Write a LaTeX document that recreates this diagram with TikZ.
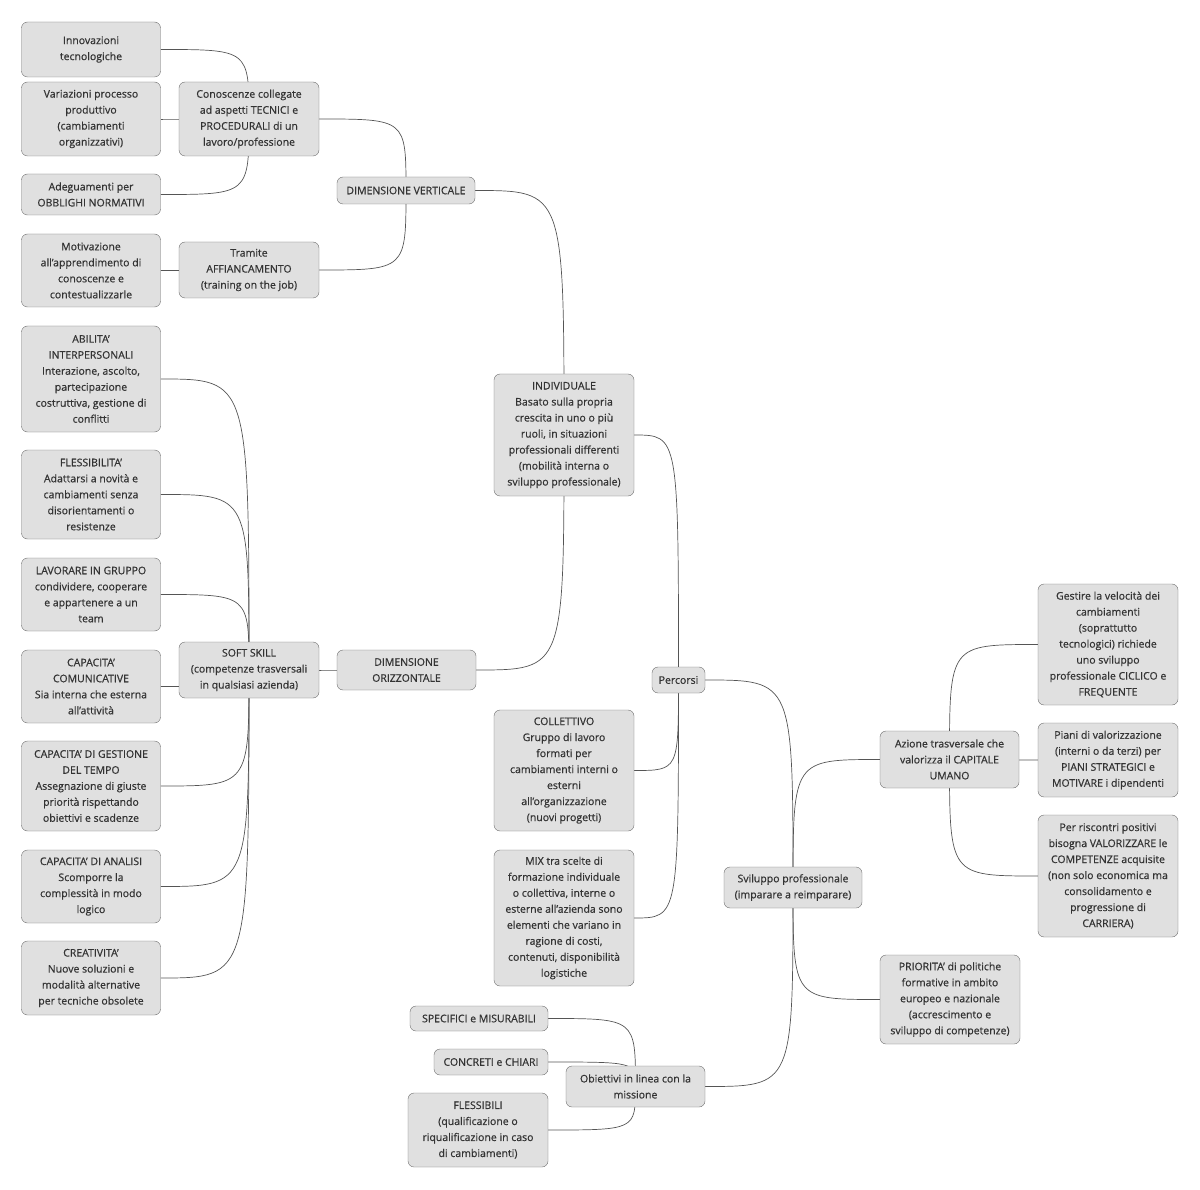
\documentclass[tikz,border=0pt]{standalone}
\usepackage{fontspec}
\setmainfont{Open Sans}
\usetikzlibrary{backgrounds}
\definecolor{bx}{HTML}{E0E0E0}
\definecolor{bd}{HTML}{6E6E6E}
\definecolor{tx}{HTML}{333333}
\definecolor{ln}{HTML}{555555}
\begin{document}
\begin{tikzpicture}[x=1pt,y=-1pt,
  b/.style n args={2}{draw=bd,fill=bx,rounded corners=6pt,align=center,text=tx,
    font=\fontsize{10.5}{16}\selectfont\addfontfeatures{FakeBold=0.6},inner sep=2pt,minimum width=#1,minimum height=#2},
  c/.style={draw=ln,line width=0.7pt}]
\useasboundingbox (0,0) rectangle (1200,1190);
\node[b={139}{55}] (inn) at (91,49.5) {Innovazioni\\tecnologiche};
\node[b={139}{74}] (var) at (91,119) {Variazioni processo\\produttivo\\(cambiamenti\\organizzativi)};
\node[b={139}{41}] (ade) at (91,194.5) {Adeguamenti per\\OBBLIGHI NORMATIVI};
\node[b={139}{73}] (mot) at (91,270.5) {Motivazione\\all'apprendimento di\\conoscenze e\\contestualizzarle};
\node[b={140}{74}] (con) at (249,119) {Conoscenze collegate\\ad aspetti TECNICI e\\PROCEDURALI di un\\lavoro/professione};
\node[b={140}{56}] (tra) at (249,270) {Tramite\\AFFIANCAMENTO\\(training on the job)};
\node[b={138}{27}] (dv) at (406,190.5) {DIMENSIONE VERTICALE};
\node[b={140}{122}] (ind) at (564,435) {INDIVIDUALE\\Basato sulla propria\\crescita in uno o più\\ruoli, in situazioni\\professionali differenti\\(mobilità interna o\\sviluppo professionale)};
\node[b={139}{106}] (abi) at (91,379) {ABILITA'\\INTERPERSONALI\\Interazione, ascolto,\\partecipazione\\costruttiva, gestione di\\conflitti};
\node[b={139}{89}] (fle) at (91,494.5) {FLESSIBILITA'\\Adattarsi a novità e\\cambiamenti senza\\disorientamenti o\\resistenze};
\node[b={139}{73}] (lav) at (91,594.5) {LAVORARE IN GRUPPO\\condividere, cooperare\\e appartenere a un\\team};
\node[b={139}{73}] (com) at (91,686.5) {CAPACITA'\\COMUNICATIVE\\Sia interna che esterna\\all'attività};
\node[b={139}{90}] (tem) at (91,786) {CAPACITA' DI GESTIONE\\DEL TEMPO\\Assegnazione di giuste\\priorità rispettando\\obiettivi e scadenze};
\node[b={139}{73}] (ana) at (91,886.5) {CAPACITA' DI ANALISI\\Scomporre la\\complessità in modo\\logico};
\node[b={139}{74}] (cre) at (91,978) {CREATIVITA'\\Nuove soluzioni e\\modalità alternative\\per tecniche obsolete};
\node[b={140}{56}] (sof) at (249,670) {SOFT SKILL\\(competenze trasversali\\in qualsiasi azienda)};
\node[b={139}{40}] (dor) at (406.5,670) {DIMENSIONE\\ORIZZONTALE};
\node[b={53}{26}] (per) at (678.5,680) {Percorsi};
\node[b={140}{121}] (col) at (564,770.5) {COLLETTIVO\\Gruppo di lavoro\\formati per\\cambiamenti interni o\\esterni\\all'organizzazione\\(nuovi progetti)};
\node[b={140}{136}] (mix) at (564,918) {MIX tra scelte di\\formazione individuale\\o collettiva, interne o\\esterne all'azienda sono\\elementi che variano in\\ragione di costi,\\contenuti, disponibilità\\logistiche};
\node[b={138}{41}] (svi) at (793,887.5) {Sviluppo professionale\\(imparare a reimparare)};
\node[b={139}{57}] (azi) at (949.5,759.5) {Azione trasversale che\\valorizza il CAPITALE\\UMANO};
\node[b={140}{121}] (ges) at (1108,644.5) {Gestire la velocità dei\\cambiamenti\\(soprattutto\\tecnologici) richiede\\uno sviluppo\\professionale CICLICO e\\FREQUENTE};
\node[b={140}{74}] (pia) at (1108,760) {Piani di valorizzazione\\(interni o da terzi) per\\PIANI STRATEGICI e\\MOTIVARE i dipendenti};
\node[b={140}{122}] (ris) at (1108,876) {Per riscontri positivi\\bisogna VALORIZZARE le\\COMPETENZE acquisite\\(non solo economica ma\\consolidamento e\\progressione di\\CARRIERA)};
\node[b={140}{89}] (pri) at (950,999.5) {PRIORITA' di politiche\\formative in ambito\\europeo e nazionale\\(accrescimento e\\sviluppo di competenze)};
\node[b={139}{41}] (obi) at (635.5,1086.5) {Obiettivi in linea con la\\missione};
\node[b={138}{25}] (spe) at (479,1018.5) {SPECIFICI e MISURABILI};
\node[b={114}{26}] (cnc) at (491,1062) {CONCRETI e CHIARI};
\node[b={140}{74}] (fls) at (478,1130) {FLESSIBILI\\(qualificazione o\\riqualificazione in caso\\di cambiamenti)};
\begin{scope}[on background layer]
\foreach \p/\k in {con/inn,con/var,con/ade,tra/mot,dv/con,dv/tra,sof/abi,sof/fle,sof/lav,sof/com,sof/tem,sof/ana,sof/cre,dor/sof,obi/spe,obi/cnc,obi/fls,svi/obi}
  \draw[c] (\p.center) .. controls (\p.center |- \k.east) .. (\k.east);
\foreach \p/\k in {ind/dv,ind/dor,per/ind,per/col,per/mix}
  \draw[c] (\p.center) .. controls (\p.center |- \k.east) .. (\k.east);
\foreach \p/\k in {svi/per}
  \draw[c] (\p.center) .. controls (\p.center |- \k.east) .. (\k.east);
\foreach \p/\k in {svi/azi,svi/pri,azi/ges,azi/pia,azi/ris}
  \draw[c] (\p.center) .. controls (\p.center |- \k.west) .. (\k.west);
\end{scope}
\end{tikzpicture}
\end{document}
